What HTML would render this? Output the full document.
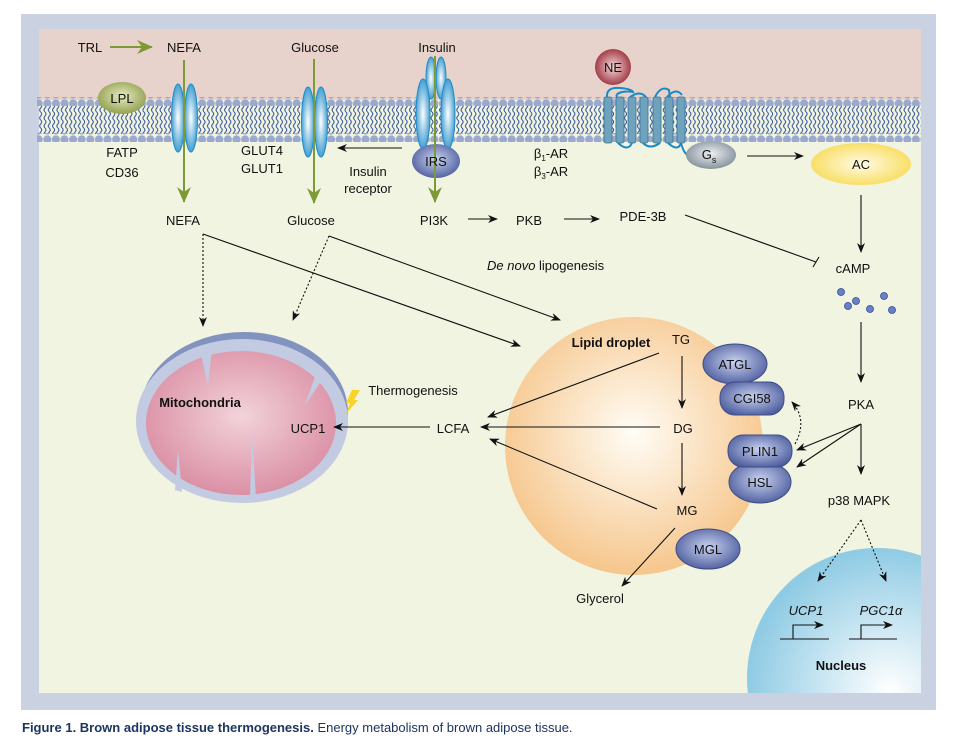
<!DOCTYPE html>
<html><head><meta charset="utf-8"><style>
html,body{margin:0;padding:0;background:#fff;width:958px;height:750px;overflow:hidden}
svg{display:block;font-family:"Liberation Sans",sans-serif}
</style></head><body>
<svg width="958" height="750" viewBox="0 0 958 750" xmlns="http://www.w3.org/2000/svg">
<defs>
<pattern id="heads" x="0" y="0" width="8.6" height="9" patternUnits="userSpaceOnUse">
<circle cx="4.3" cy="4.5" r="4.1" fill="#9ca9cf"/>
</pattern>
<pattern id="tails" x="0" y="0" width="4.3" height="8" patternUnits="userSpaceOnUse">
<path d="M2 0 Q4 2 2 4 Q0 6 2 8" stroke="#2f4f9c" stroke-width="1" fill="none"/>
</pattern>
<radialGradient id="drop" cx="0.5" cy="0.45" r="0.55"><stop offset="0" stop-color="#fffdf6"/><stop offset="1" stop-color="#f6c68c"/></radialGradient>
<radialGradient id="nuc" cx="0.55" cy="0.55" r="0.55"><stop offset="0" stop-color="#ffffff"/><stop offset="1" stop-color="#8fcbe4"/></radialGradient>
<radialGradient id="pink" cx="0.5" cy="0.45" r="0.6"><stop offset="0" stop-color="#f2d3da"/><stop offset="1" stop-color="#d98aa0"/></radialGradient>
<radialGradient id="navy" cx="0.5" cy="0.45" r="0.6"><stop offset="0" stop-color="#c9d2ef"/><stop offset="1" stop-color="#4a5a9c"/></radialGradient>
<radialGradient id="chan" cx="0.5" cy="0.5" r="0.6"><stop offset="0" stop-color="#ffffff"/><stop offset="1" stop-color="#1f8cc8"/></radialGradient>
<radialGradient id="lpl" cx="0.5" cy="0.45" r="0.6"><stop offset="0" stop-color="#e6ecc0"/><stop offset="1" stop-color="#8d9a4a"/></radialGradient>
<radialGradient id="ne" cx="0.5" cy="0.5" r="0.55"><stop offset="0" stop-color="#f4dada"/><stop offset="1" stop-color="#9a2e3a"/></radialGradient>
<radialGradient id="gs" cx="0.5" cy="0.45" r="0.6"><stop offset="0" stop-color="#eef0f2"/><stop offset="1" stop-color="#7e8a96"/></radialGradient>
<radialGradient id="ac" cx="0.5" cy="0.5" r="0.55"><stop offset="0" stop-color="#fffbe6"/><stop offset="1" stop-color="#f8dc5a"/></radialGradient>
<marker id="a" markerWidth="10" markerHeight="8" refX="9" refY="4" orient="auto" markerUnits="userSpaceOnUse"><path d="M0 0 L10 4 L0 8 L3 4Z" fill="#111"/></marker>
<marker id="g" markerWidth="16" markerHeight="14" refX="15" refY="7" orient="auto" markerUnits="userSpaceOnUse"><path d="M0 0 L16 7 L0 14 L5 7Z" fill="#7e9a34"/></marker>
<clipPath id="inner"><rect x="39" y="29" width="882" height="664"/></clipPath>
</defs>
<rect x="21" y="14" width="915" height="696" fill="#cad1e0"/>
<rect x="39" y="29" width="882" height="664" fill="#f0f4e0"/>
<rect x="39" y="29" width="882" height="71" fill="#e8d3cc"/>
<!-- membrane -->
<rect x="39" y="104" width="882" height="30" fill="url(#tails)"/>
<rect x="37" y="97" width="884" height="9" fill="url(#heads)"/>
<rect x="37" y="133" width="884" height="9" fill="url(#heads)"/>
<g clip-path="url(#inner)">
<circle cx="877" cy="678" r="130" fill="url(#nuc)"/>
</g>
<!-- lipid droplet -->
<circle cx="634" cy="446" r="129" fill="url(#drop)"/>
<!-- mitochondria -->
<ellipse cx="244" cy="413" rx="104" ry="81" fill="#8393bf"/>
<ellipse cx="242" cy="421" rx="106" ry="82" fill="#c3cbe2"/>
<ellipse cx="241" cy="423" rx="95" ry="72" fill="url(#pink)"/>
<path d="M200 350 L208 385 L212 349Z M318 368 L305 405 L322 380Z M178 450 L175 490 L182 492Z M252 435 L250 497 L256 497Z" fill="#c3cbe2"/>
<!-- channels -->
<g stroke="#1f8cc8" stroke-width="1">
<ellipse cx="178" cy="118" rx="6.5" ry="34" fill="url(#chan)"/>
<ellipse cx="191" cy="118" rx="6.5" ry="34" fill="url(#chan)"/>
<ellipse cx="308" cy="122" rx="6.5" ry="35" fill="url(#chan)"/>
<ellipse cx="321" cy="122" rx="6.5" ry="35" fill="url(#chan)"/>
<ellipse cx="431" cy="78" rx="5" ry="21" fill="url(#chan)"/>
<ellipse cx="441" cy="78" rx="5" ry="21" fill="url(#chan)"/>
<ellipse cx="423" cy="114" rx="7" ry="35" fill="url(#chan)"/>
<ellipse cx="448" cy="114" rx="7" ry="35" fill="url(#chan)"/>
</g>
<ellipse cx="122" cy="98" rx="24" ry="16" fill="url(#lpl)"/>
<ellipse cx="436" cy="161" rx="24" ry="17" fill="url(#navy)"/>
<!-- GPCR -->
<circle cx="613" cy="67" r="18" fill="url(#ne)"/>
<path d="M607 97 Q606 87 620 88 Q632 89 633 92 Q628 91 622 92 Q615 94 617 97 M630 97 Q640 90 646 97 M655 97 Q661 85 669 90 L670 97 M667 97 Q676 87 682 95 M618 143 Q628 152 632 143 M643 143 Q650 150 660 143 M668 143 Q678 152 681 143 M681 143 Q684 155 690 156" stroke="#1a8ac4" stroke-width="2" fill="none"/>
<g fill="#6ea2bd" stroke="#3e7490" stroke-width="0.8">
<rect x="604" y="97" width="8" height="46" rx="2"/><rect x="616" y="97" width="8" height="46" rx="2"/><rect x="628" y="97" width="8" height="46" rx="2"/><rect x="640" y="97" width="8" height="46" rx="2"/><rect x="653" y="97" width="8" height="46" rx="2"/><rect x="665" y="97" width="8" height="46" rx="2"/><rect x="677" y="97" width="8" height="46" rx="2"/>
</g>
<ellipse cx="711" cy="155" rx="25" ry="14" fill="url(#gs)"/>
<ellipse cx="861" cy="164" rx="50" ry="21" fill="url(#ac)"/>
<!-- green arrows -->
<g stroke="#7e9a34" stroke-width="2" fill="none">
<line x1="110" y1="47" x2="152" y2="47" marker-end="url(#g)"/>
<line x1="184" y1="60" x2="184" y2="202" marker-end="url(#g)"/>
<line x1="314" y1="59" x2="314" y2="203" marker-end="url(#g)"/>
<line x1="435" y1="56" x2="435" y2="202" marker-end="url(#g)"/>
</g>
<!-- navy proteins -->
<g fill="url(#navy)" stroke="#3e4c88" stroke-width="1">
<ellipse cx="735" cy="364" rx="32" ry="20"/>
<rect x="720" y="382" width="64" height="33" rx="15"/>
<ellipse cx="760" cy="482" rx="31" ry="21"/>
<rect x="728" y="435" width="64" height="32" rx="15"/>
<ellipse cx="708" cy="549" rx="32" ry="20"/>
</g>
<!-- black arrows -->
<g stroke="#111" stroke-width="1.1" fill="none">
<line x1="402" y1="148" x2="338" y2="148" marker-end="url(#a)"/>
<line x1="468" y1="219" x2="497" y2="219" marker-end="url(#a)"/>
<line x1="564" y1="219" x2="599" y2="219" marker-end="url(#a)"/>
<line x1="685" y1="215" x2="816" y2="262"/>
<line x1="813" y1="267" x2="819" y2="257"/>
<line x1="747" y1="156" x2="803" y2="156" marker-end="url(#a)"/>
<line x1="861" y1="195" x2="861" y2="252" marker-end="url(#a)"/>
<line x1="861" y1="322" x2="861" y2="382" marker-end="url(#a)"/>
<line x1="861" y1="424" x2="861" y2="474" marker-end="url(#a)"/>
<line x1="861" y1="424" x2="797" y2="450" marker-end="url(#a)"/>
<line x1="861" y1="424" x2="797" y2="467" marker-end="url(#a)"/>
<path d="M795 444 Q808 420 792 402" stroke-dasharray="2,2" marker-end="url(#a)"/>
<line x1="861" y1="520" x2="818" y2="581" stroke-dasharray="2,2" marker-end="url(#a)"/>
<line x1="861" y1="520" x2="886" y2="581" stroke-dasharray="2,2" marker-end="url(#a)"/>
<path d="M780 639 H829 M793 639 V625 H823" marker-end="url(#a)"/>
<path d="M849 639 H897 M861 639 V625 H892" marker-end="url(#a)"/>
<line x1="682" y1="356" x2="682" y2="408" marker-end="url(#a)"/>
<line x1="682" y1="443" x2="682" y2="495" marker-end="url(#a)"/>
<line x1="659" y1="353" x2="488" y2="417" marker-end="url(#a)"/>
<line x1="660" y1="427" x2="481" y2="427" marker-end="url(#a)"/>
<line x1="657" y1="509" x2="490" y2="439" marker-end="url(#a)"/>
<line x1="675" y1="528" x2="622" y2="586" marker-end="url(#a)"/>
<line x1="430" y1="427" x2="334" y2="427" marker-end="url(#a)"/>
<line x1="203" y1="234" x2="203" y2="326" stroke-dasharray="2,2" marker-end="url(#a)"/>
<line x1="203" y1="234" x2="520" y2="346" marker-end="url(#a)"/>
<line x1="329" y1="236" x2="293" y2="320" stroke-dasharray="2,2" marker-end="url(#a)"/>
<line x1="329" y1="236" x2="560" y2="320" marker-end="url(#a)"/>
</g>
<path d="M352 390 L360 390 L354 400 L358 400 L346 414 L350 403 L346 403Z" fill="#f7d42a"/>
<g fill="#6a80c4" stroke="#2d4a98" stroke-width="0.8">
<circle cx="841" cy="292" r="3.5"/><circle cx="856" cy="301" r="3.5"/><circle cx="870" cy="309" r="3.5"/><circle cx="884" cy="296" r="3.5"/><circle cx="892" cy="310" r="3.5"/><circle cx="848" cy="306" r="3.5"/>
</g>
<!-- text -->
<g font-size="13" fill="#111" text-anchor="middle">
<text x="90" y="52">TRL</text>
<text x="184" y="52">NEFA</text>
<text x="315" y="52">Glucose</text>
<text x="437" y="52">Insulin</text>
<text x="122" y="103">LPL</text>
<text x="122" y="157">FATP</text>
<text x="122" y="177">CD36</text>
<text x="262" y="155">GLUT4</text>
<text x="262" y="173">GLUT1</text>
<text x="368" y="176">Insulin</text>
<text x="368" y="193">receptor</text>
<text x="436" y="166">IRS</text>
<text x="613" y="72">NE</text>
<text x="551" y="158">β<tspan font-size="8" dy="3">1</tspan><tspan dy="-3">-AR</tspan></text>
<text x="551" y="176">β<tspan font-size="8" dy="3">3</tspan><tspan dy="-3">-AR</tspan></text>
<text x="709" y="159">G<tspan font-size="9" dy="4">s</tspan></text>
<text x="861" y="169">AC</text>
<text x="183" y="225">NEFA</text>
<text x="311" y="225">Glucose</text>
<text x="434" y="225">PI3K</text>
<text x="529" y="225">PKB</text>
<text x="643" y="221">PDE-3B</text>
<text x="853" y="273">cAMP</text>
<text x="861" y="409">PKA</text>
<text x="859" y="505">p38 MAPK</text>
<text x="681" y="344">TG</text>
<text x="683" y="433">DG</text>
<text x="687" y="515">MG</text>
<text x="600" y="603">Glycerol</text>
<text x="735" y="369">ATGL</text>
<text x="752" y="403">CGI58</text>
<text x="760" y="456">PLIN1</text>
<text x="760" y="487">HSL</text>
<text x="708" y="554">MGL</text>
<text x="453" y="433">LCFA</text>
<text x="308" y="433">UCP1</text>
<text x="413" y="395">Thermogenesis</text>
<text x="806" y="615" font-style="italic">UCP1</text>
<text x="881" y="615" font-style="italic">PGC1α</text>
<text x="487" y="270" text-anchor="start"><tspan font-style="italic">De novo</tspan> lipogenesis</text>
</g>
<g font-size="13" font-weight="bold" fill="#111" text-anchor="middle">
<text x="611" y="347">Lipid droplet</text>
<text x="200" y="407">Mitochondria</text>
<text x="841" y="670">Nucleus</text>
</g>
<text x="22" y="732" font-size="13" fill="#1c3560"><tspan font-weight="bold">Figure 1. Brown adipose tissue thermogenesis.</tspan> Energy metabolism of brown adipose tissue.</text>
</svg>
</body></html>
